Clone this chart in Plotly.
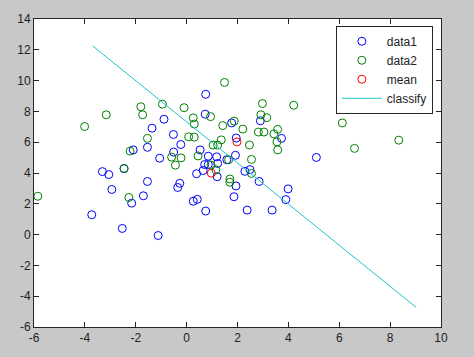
import plotly.graph_objects as go

data1_x = [-3.73, -3.31, -3.06, -2.94, -2.46, -2.16, -2.53, -1.70, -1.54, -1.12,
           -0.35, -0.27, 0.26, 0.42, 0.75, 0.39, 0.65, 1.20, 1.94, 1.86,
           2.29, 2.49, 2.85, 3.99, 3.90, 2.38, 3.36, 5.10, 2.90, 3.73,
           1.95, 1.92, 1.77, 0.75, 0.73, -0.89, -1.36, -0.52, -0.23, 0.53,
           0.85, 1.18, 1.58, 0.71, 1.22, -0.51, -1.06, -1.54, -2.10, 0.85]
data1_y = [1.29, 4.09, 3.90, 2.93, 4.28, 2.04, 0.40, 2.52, 3.45, -0.06,
           3.06, 3.33, 2.17, 2.29, 1.53, 3.95, 4.16, 3.76, 3.16, 2.46,
           4.11, 4.22, 3.45, 2.97, 2.27, 1.59, 1.59, 5.01, 7.39, 6.25,
           6.27, 5.15, 7.25, 9.11, 7.82, 7.49, 6.91, 6.50, 5.85, 5.50,
           5.09, 5.05, 4.86, 4.55, 4.62, 5.36, 4.96, 5.67, 5.50, 4.55]

data2_x = [-5.85, -4.01, -3.16, -1.80, -1.73, -0.95, -0.10, 1.49, 0.94, 0.26,
           0.30, -1.54, 0.08, 0.30, 1.42, 1.87, 1.36, 1.04, 1.22, -0.59,
           -0.22, -0.44, -2.22, -2.46, -2.27, 0.45, 0.96, 1.15, 1.70, 1.70,
           2.55, 2.98, 4.21, 6.56, 6.12, 8.34, 6.60, 2.92, 3.15, 2.21,
           2.82, 3.04, 3.43, 3.58, 3.55, 3.58, 2.47, 2.55, 1.65]
data2_y = [2.49, 7.02, 7.78, 8.30, 7.78, 8.47, 8.24, 9.88, 7.66, 7.58,
           7.18, 6.25, 6.35, 6.33, 7.08, 7.37, 6.15, 5.81, 5.81, 5.03,
           4.98, 4.51, 5.42, 4.30, 2.41, 5.11, 4.51, 4.20, 3.61, 3.40,
           3.97, 8.51, 8.40, 8.43, 7.25, 6.13, 5.60, 7.78, 7.59, 6.85,
           6.66, 6.66, 6.54, 6.83, 6.02, 5.50, 5.82, 4.88, 4.86]

mean_x = [1.98, 0.97]
mean_y = [6.02, 3.99]

classify_x = [-3.70, 9.02]
classify_y = [12.26, -4.72]

x_ticks = [-6, -4, -2, 0, 2, 4, 6, 8, 10]
y_ticks = [-6, -4, -2, 0, 2, 4, 6, 8, 10, 12, 14]

fig = go.Figure()
mk = dict(symbol="circle-open", size=8, line=dict(width=1))
fig.add_trace(go.Scatter(x=data1_x, y=data1_y, mode="markers", name="data1",
                         marker=dict(color="#0000ff", **mk)))
fig.add_trace(go.Scatter(x=data2_x, y=data2_y, mode="markers", name="data2",
                         marker=dict(color="#008000", **mk)))
fig.add_trace(go.Scatter(x=mean_x, y=mean_y, mode="markers", name="mean",
                         marker=dict(color="#ff0000", **mk)))
fig.add_trace(go.Scatter(x=classify_x, y=classify_y, mode="lines", name="classify",
                         line=dict(color="#20c4c4", width=1)))

axis_common = dict(showgrid=False, zeroline=False, showline=True, linecolor="#262626",
                   linewidth=1, mirror="allticks", ticks="inside", ticklen=5,
                   tickcolor="#262626",
                   tickfont=dict(family="Liberation Sans, Arial", size=12, color="#222"))
fig.update_xaxes(range=[-6, 10], tickvals=x_ticks, ticktext=[str(v) for v in x_ticks], **axis_common)
fig.update_yaxes(range=[-6, 14], tickvals=y_ticks, ticktext=[str(v) for v in y_ticks], **axis_common)

fig.update_layout(
    width=474, height=357,
    margin=dict(l=34, r=33, t=16, b=20),
    paper_bgcolor="#c8c8c8", plot_bgcolor="#ffffff",
    showlegend=True,
    legend=dict(x=0.98, y=0.978, xanchor="right", yanchor="top",
                bgcolor="#ffffff", bordercolor="#262626", borderwidth=1,
                font=dict(family="Liberation Sans, Arial", size=12, color="#222"),
                tracegroupgap=0, itemsizing="trace", itemwidth=40),
)

fig.write_html("out.html", config={"displayModeBar": False},
               post_script="document.body.style.margin='0';document.body.style.overflow='hidden';")
